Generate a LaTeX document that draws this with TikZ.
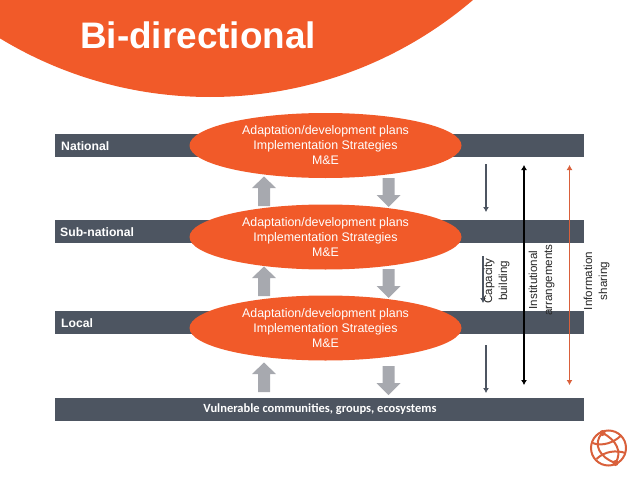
\documentclass[tikz,border=0pt]{standalone}
\usepackage{fontspec}
\setmainfont{Liberation Sans}
\newfontfamily\barfont{Carlito}
\usetikzlibrary{arrows.meta,shapes.geometric}
\definecolor{cforange}{HTML}{F15A29}
\definecolor{cfslate}{HTML}{4D5561}
\definecolor{cfgrey}{HTML}{A7A9AF}
\definecolor{cfline}{HTML}{D9603B}
\tikzset{
levelbar/.style={fill=cfslate,draw=none,minimum width=529pt,minimum height=23pt,inner sep=0pt},
barlabel/.style={text=white,font=\bfseries\fontsize{12.2}{14}\selectfont,anchor=west,inner sep=0pt},
planblob/.style={ellipse,fill=cforange,minimum width=272pt,minimum height=65pt,inner sep=0pt,align=center,text=white,font=\fontsize{12.4}{15}\selectfont},
sidetext/.style={rotate=90,align=center,inner sep=0pt,font=\fontsize{11.6}{15}\selectfont,text=black!85}
}
\begin{document}
\begin{tikzpicture}[x=1pt,y=-1pt]
\useasboundingbox (0,0) rectangle (638,479);
\begin{scope}
\clip (0,0) rectangle (638,479);
\fill[cforange] (210,-308) circle [radius=405];
\end{scope}
\node[text=white,font=\bfseries\fontsize{36.9}{40}\selectfont,anchor=west,inner sep=0pt] (title) at (80,35) {Bi-directional};
\node[levelbar] (national) at (319.5,145.5) {};
\node[levelbar] (subnational) at (319.5,231.5) {};
\node[levelbar] (local) at (319.5,322.5) {};
\node[levelbar] (communities) at (319.5,409) {};
\node[barlabel] (nationallabel) at (61,146) {National};
\node[barlabel] (subnationallabel) at (60,232.5) {Sub-national};
\node[barlabel] (locallabel) at (61,323) {Local};
\node[text=white,font=\barfont\bfseries\fontsize{12.5}{14}\selectfont,inner sep=0pt] (communitieslabel) at (320,409) {Vulnerable communities, groups, ecosystems};
\node[planblob] (planone) at (325.5,145.5) {Adaptation/development plans\\Implementation Strategies\\M\&E};
\node[planblob] (plantwo) at (325.5,237) {Adaptation/development plans\\Implementation Strategies\\M\&E};
\node[planblob] (planthree) at (325.5,328) {Adaptation/development plans\\Implementation Strategies\\M\&E};
\foreach \y in {206,296,392} {
\begin{scope}[shift={(264,\y)}]
\fill[cfgrey] (-6,0) -- (6,0) -- (6,-18) -- (12,-18) -- (0,-29.5) -- (-12,-18) -- (-6,-18) -- cycle;
\end{scope}
}
\foreach \y in {178,269,366} {
\begin{scope}[shift={(388.5,\y)}]
\fill[cfgrey] (-6,0) -- (6,0) -- (6,17) -- (12,17) -- (0,29) -- (-12,17) -- (-6,17) -- cycle;
\end{scope}
}
\coordinate (capatop) at (486,164);
\coordinate (capabottom) at (486,212);
\coordinate (capbtop) at (483,256);
\coordinate (capbbottom) at (483,303);
\coordinate (capctop) at (486,345);
\coordinate (capcbottom) at (486,393);
\coordinate (insttop) at (524,165);
\coordinate (instbottom) at (524,385);
\coordinate (infotop) at (569.5,165);
\coordinate (infobottom) at (569.5,385);
\foreach \a/\b in {capatop/capabottom,capbtop/capbbottom,capctop/capcbottom} {
\draw[cfslate,line width=1.2pt,-{Latex[length=5pt,width=6pt]}] (\a) -- (\b);
}
\draw[black,line width=2pt,{Latex[length=5pt,width=6pt]}-{Latex[length=5pt,width=6pt]}] (insttop) -- (instbottom);
\draw[cfline,line width=1.8pt,{Latex[length=5pt,width=6pt]}-{Latex[length=5pt,width=6pt]}] (infotop) -- (infobottom);
\node[sidetext] (capacity) at (496.7,281) {Capacity\\building};
\node[sidetext] (institutional) at (541.7,280) {Institutional\\arrangements};
\node[sidetext] (information) at (596.7,281) {Information\\sharing};
% logo
\begin{scope}[shift={(608.5,448)},cfline,line width=2pt]
\draw (0,0) circle [radius=17.5];
\draw (-6,-15) .. controls (-17,-4) and (-8,10) .. (7,15);
\draw (-6,-15) .. controls (8,-8) and (14,4) .. (7,15);
\draw (-16,-5) .. controls (-6,-1) and (6,-6) .. (12,-12);
\draw (-12,11) .. controls (-4,3) and (8,2) .. (17,5);
\fill (-6,-15) circle [radius=3];
\fill (7,15) circle [radius=3];
\end{scope}
\end{tikzpicture}
\end{document}
